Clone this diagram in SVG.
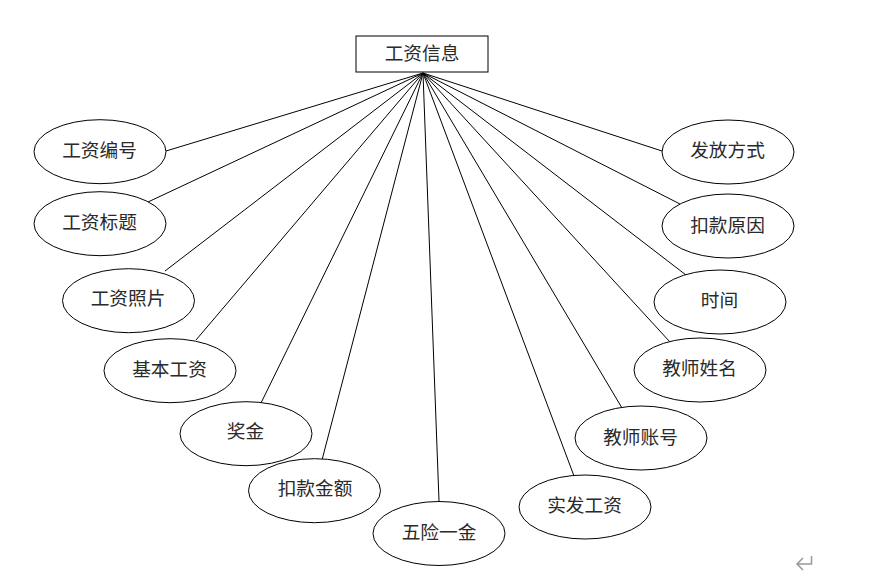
<svg xmlns="http://www.w3.org/2000/svg" width="869" height="587" viewBox="0 0 869 587">
<style>
.n{fill:#fff;stroke:#000;stroke-width:1}
.t{font-family:"Noto Sans CJK SC","Noto Sans CJK JP",sans-serif;font-size:18.7px;fill:#2a2a2a;text-anchor:middle;dominant-baseline:central}
#connectors line{stroke:#000;stroke-width:1}
</style>
<rect width="869" height="587" fill="#fff"/>
<g id="connectors">
<line x1="423" y1="73" x2="166" y2="151"/>
<line x1="423" y1="73" x2="148" y2="202"/>
<line x1="423" y1="73" x2="165" y2="271"/>
<line x1="423" y1="73" x2="196" y2="340"/>
<line x1="423" y1="73" x2="261" y2="403"/>
<line x1="423" y1="73" x2="322" y2="460"/>
<line x1="423" y1="73" x2="439" y2="501"/>
<line x1="423" y1="73" x2="574" y2="476"/>
<line x1="423" y1="73" x2="622" y2="408"/>
<line x1="423" y1="73" x2="670" y2="342"/>
<line x1="423" y1="73" x2="686" y2="275"/>
<line x1="423" y1="73" x2="680" y2="204"/>
<line x1="423" y1="73" x2="662" y2="151"/>
</g>
<g id="root"><rect class="n" x="356" y="36" width="132" height="36"/><text class="t" x="422" y="51.500">工资信息</text></g>
<g id="n1"><ellipse class="n" cx="100" cy="151.700" rx="66" ry="32"/><text class="t" x="99.500" y="148.500">工资编号</text></g>
<g id="n2"><ellipse class="n" cx="100" cy="223.700" rx="66" ry="32"/><text class="t" x="99.500" y="220.500">工资标题</text></g>
<g id="n3"><ellipse class="n" cx="128.500" cy="300.700" rx="66" ry="32"/><text class="t" x="128" y="296.500">工资照片</text></g>
<g id="n4"><ellipse class="n" cx="170" cy="370.700" rx="66" ry="32"/><text class="t" x="169.500" y="367.500">基本工资</text></g>
<g id="n5"><ellipse class="n" cx="246" cy="433.700" rx="66" ry="32"/><text class="t" x="245.500" y="429.500">奖金</text></g>
<g id="n6"><ellipse class="n" cx="314.500" cy="490.700" rx="66" ry="32"/><text class="t" x="315" y="486.500">扣款金额</text></g>
<g id="n7"><ellipse class="n" cx="439" cy="533.500" rx="66" ry="32"/><text class="t" x="439" y="530.500">五险一金</text></g>
<g id="n8"><ellipse class="n" cx="585" cy="507" rx="66" ry="32"/><text class="t" x="584.500" y="503.500">实发工资</text></g>
<g id="n9"><ellipse class="n" cx="641" cy="438" rx="66" ry="32"/><text class="t" x="640.500" y="435.500">教师账号</text></g>
<g id="n10"><ellipse class="n" cx="700" cy="370" rx="66" ry="32"/><text class="t" x="699.500" y="366.500">教师姓名</text></g>
<g id="n11"><ellipse class="n" cx="720" cy="302" rx="66" ry="32"/><text class="t" x="719.500" y="298.500">时间</text></g>
<g id="n12"><ellipse class="n" cx="728" cy="226" rx="66" ry="32"/><text class="t" x="727.500" y="223.500">扣款原因</text></g>
<g id="n13"><ellipse class="n" cx="728" cy="152" rx="66" ry="32"/><text class="t" x="727.500" y="148.500">发放方式</text></g>
<path d="M811.500 556V564H797M803 558L797 564L803 570" fill="none" stroke="#999" stroke-width="1.500"/>
</svg>
